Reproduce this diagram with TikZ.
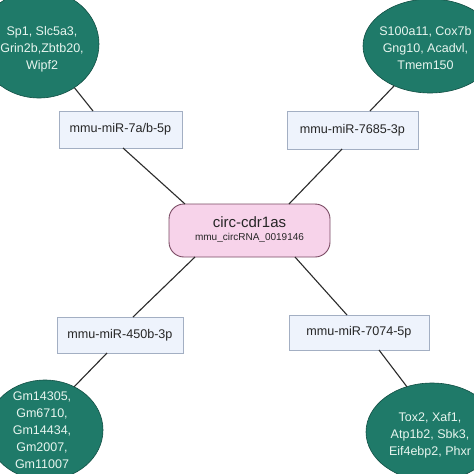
\documentclass[tikz,border=0pt]{standalone}
\usepackage{fontspec}
\setmainfont{Liberation Sans}
\usetikzlibrary{shapes.geometric}
\definecolor{geneFill}{HTML}{1F7A69}
\definecolor{geneLine}{HTML}{114F44}
\definecolor{geneText}{HTML}{E8F5EF}
\definecolor{mirFill}{HTML}{EEF3FC}
\definecolor{mirLine}{HTML}{A3AFC3}
\definecolor{hubFill}{HTML}{F7D3EA}
\definecolor{hubLine}{HTML}{7A4A63}
\definecolor{linkCol}{HTML}{2B2B2B}
\begin{document}
\begin{tikzpicture}[x=1pt,y=-1pt,
  gene/.style={ellipse, fill=geneFill, draw=geneLine, line width=0.6pt, inner sep=0pt, outer sep=0pt},
  genetext/.style={align=center, text=geneText, inner sep=0pt, font=\fontsize{12.5}{17}\selectfont},
  mir/.style={rectangle, fill=mirFill, draw=mirLine, line width=0.8pt, inner sep=0pt, outer sep=0pt, text=black!85, font=\fontsize{12.6}{15}\selectfont},
  hub/.style={rectangle, rounded corners=15pt, fill=hubFill, draw=hubLine, line width=0.9pt, inner sep=0pt, outer sep=0pt},
  hubtext/.style={inner sep=0pt, text=black!85},
  link/.style={draw=linkCol, line width=1.1pt}
]
\useasboundingbox (0,0) rectangle (474,474);
\clip (0,0) rectangle (474,474);
\fill[white] (0,0) rectangle (474,474);

\node[gene, minimum width=120, minimum height=108] (e1) at (39,44) {};
\node[gene, minimum width=134, minimum height=94] (e2) at (430,46) {};
\node[gene, minimum width=116, minimum height=100] (e3) at (45,430) {};
\node[gene, minimum width=132, minimum height=98] (e4) at (432,432) {};

\node[genetext] (t1) at (42,49) {Sp1, Slc5a3,\\Grin2b,Zbtb20,\\Wipf2};
\node[genetext] (t2) at (425.5,48) {S100a11, Cox7b\\Gng10, Acadvl,\\Tmem150};
\node[genetext] (t3) at (42,430) {Gm14305,\\Gm6710,\\Gm14434,\\Gm2007,\\Gm11007};
\node[genetext] (t4) at (430,435) {Tox2, Xaf1,\\Atp1b2, Sbk3,\\Eif4ebp2, Phxr};

\node[mir, minimum width=123, minimum height=37] (b1) at (120.5,129.5) {mmu-miR-7a/b-5p};
\node[mir, minimum width=131, minimum height=38] (b2) at (352.5,130) {mmu-miR-7685-3p};
\node[mir, minimum width=126, minimum height=36] (b3) at (120,335) {mmu-miR-450b-3p};
\node[mir, minimum width=140, minimum height=35] (b4) at (359,332.5) {mmu-miR-7074-5p};

\node[hub, minimum width=161, minimum height=53] (c) at (249.5,230.5) {};
\node[hubtext, font=\fontsize{15}{18}\selectfont] (ct) at (249.5,222) {circ-cdr1as};
\node[hubtext, font=\fontsize{10}{12}\selectfont] (cs) at (249.5,238) {mmu\_circRNA\_0019146};

\draw[link] (e1.309) -- ([xshift=-27.5]b1.north);
\draw[link] ([xshift=2.5]b1.south) -- ([xshift=-64.5]c.north);
\draw[link] (e2.228) -- ([xshift=17.5]b2.north);
\draw[link] ([xshift=-10.5]b2.south) -- ([xshift=39.5]c.north);
\draw[link] ([xshift=-54.5]c.south) -- ([xshift=13]b3.north);
\draw[link] ([xshift=-13]b3.south) -- (e3.56);
\draw[link] ([xshift=45.5]c.south) -- ([xshift=-12]b4.north);
\draw[link] ([xshift=20]b4.south) -- (e4.119);
\end{tikzpicture}
\end{document}
